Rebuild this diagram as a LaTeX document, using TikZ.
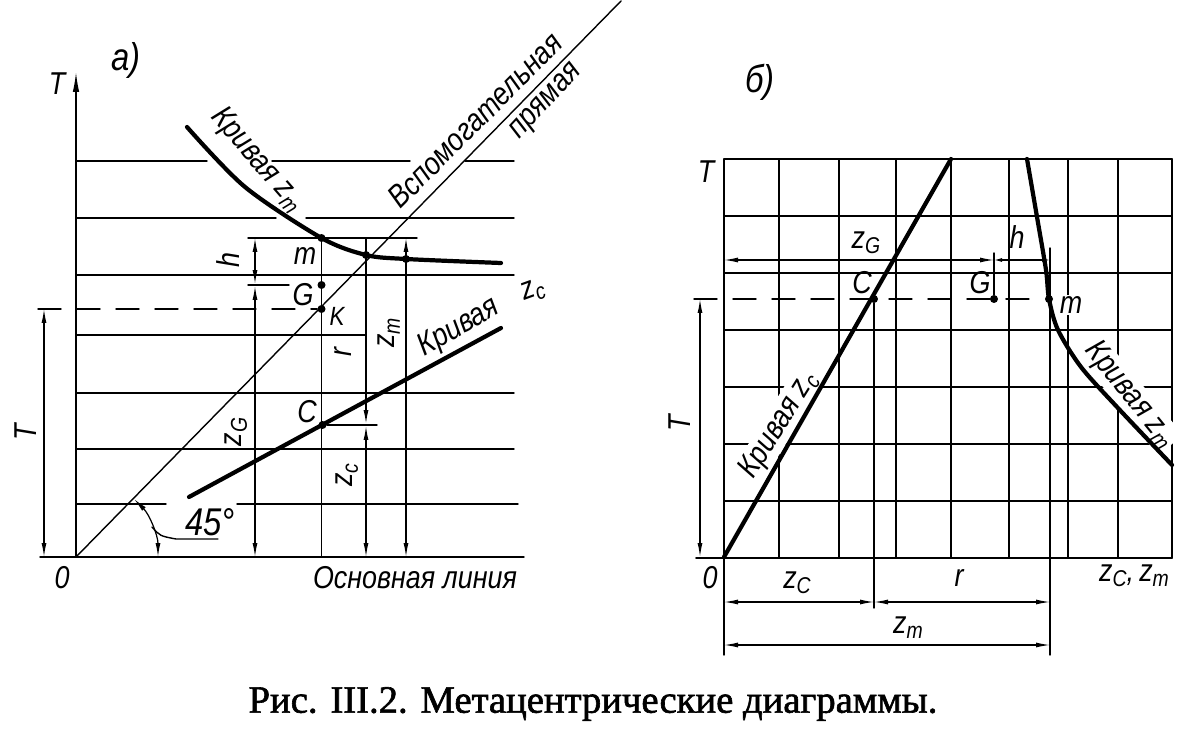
\documentclass[tikz,border=0pt]{standalone}
\usepackage{fontspec}
\setmainfont{Liberation Serif}
\newfontfamily\capfont[FakeBold=1.6]{Liberation Serif}
\newfontfamily\gostfont[FakeStretch=0.85]{Liberation Sans}
\usetikzlibrary{arrows.meta}
\newcommand{\idx}[1]{\raisebox{-0.3ex}{\fontsize{13}{15}\selectfont #1}}

\begin{document}
\begin{tikzpicture}[x=0.02cm, y=-0.02cm, line cap=round]

\tikzstyle{thinline} = [line width=0.8pt]
\tikzstyle{gridline} = [line width=1pt]
\tikzstyle{curve} = [line width=2.4pt]
\tikzstyle{dashline} = [line width=0.8pt, dash pattern=on 4.6mm off 3.2mm]
\tikzstyle{dimline} = [line width=0.7pt, {Latex[length=2.8mm,width=1mm]}-{Latex[length=2.8mm,width=1mm]}]
\tikzstyle{smalldim} = [line width=0.7pt, {Latex[length=1.6mm,width=0.8mm]}-{Latex[length=1.6mm,width=0.8mm]}]
\tikzstyle{dot} = [circle, fill=black, inner sep=0pt, minimum size=1.6mm]
\tikzstyle{lbl} = [font=\gostfont\itshape\fontsize{18}{20}\selectfont, inner sep=1pt]
\tikzstyle{bigl} = [font=\gostfont\itshape\fontsize{22}{24}\selectfont, inner sep=1pt]
\tikzstyle{gap} = [lbl, fill=white]

\fill[white] (0,0) rectangle (1200,733);
\useasboundingbox (0,0) rectangle (1200,733);

% a)
\coordinate (Oa) at (76,557);
\draw[thinline, -{Latex[length=4mm,width=1.3mm]}] (Oa) -- (76,72);
\draw[thinline] (40,557) -- (524,557);
\foreach \y in {275,393,449}
  \draw[thinline] (76,\y) -- (514,\y);
\draw[thinline] (76,161) -- (207,161) (272,161) -- (410,161) (465,161) -- (514,161);
\draw[thinline] (76,218) -- (276,218) (306,218) -- (514,218);
\draw[thinline] (76,335) -- (366,335);
\draw[thinline] (76,504) -- (166,504) (237,504) -- (518,504);

\node[dot] at (321.5,238) (ma) {};
\node[dot] at (321.5,285) (Ga) {};
\node[dot] at (321.5,309) (Ka) {};
\node[dot] at (322.5,425) (Ca) {};
\node[dot] at (366,255) (pa) {};
\node[dot] at (406,259) (qa) {};

\draw[thinline] (Oa) -- (621,1);
\draw[curve] plot[smooth] coordinates {(187,127) (245,187) (321.5,238) (366,255) (406,259) (501,263)};
\draw[curve] (189,497) -- (501,328);

\draw[thinline] (ma) -- (321.5,557);
\draw[thinline] (248,238) -- (417,238);
\draw[thinline] (248,285) -- (289,285);
\draw[dashline] (38,309) -- (Ka);
\draw[thinline] (Ca) -- (377,425);

\draw[dimline] (255,238) -- (255,284);
\draw[dimline] (255,286) -- (255,557);
\draw[thinline, -{Latex[length=2.8mm,width=1mm]}] (366,238) -- (366,424);
\draw[dimline] (366,426) -- (366,557);
\draw[dimline] (406,238) -- (406,557);
\draw[dimline] (44,309) -- (44,557);
\draw[dimline] (158,557) arc[start angle=0, end angle=-45, radius=82];
\draw[thinline] (152,527) .. controls (160,536) .. (176,539) -- (218,539);

\node[lbl] at (57,84) (Ta) {T};
\node[bigl] at (126,60) (tita) {а)};
\node[lbl] at (62,578) (nulla) {0};
\node[lbl] at (415,578) (base) {Основная линия};
\node[lbl, rotate=90] at (228,260) (ha) {h};
\node[lbl, rotate=90] at (236,432) (zGa) {z\idx{G}};
\node[lbl, rotate=90] at (343,352) (ra) {r};
\node[lbl, rotate=90] at (389,333) (zma) {z\idx{m}};
\node[lbl, rotate=90] at (347,475) (zca) {z\idx{c}};
\node[lbl, rotate=90] at (26,432) (Tdim) {T};
\node[lbl] at (305,256) (mlbl) {m};
\node[lbl] at (303,295) (Glbl) {G};
\node[lbl, font=\gostfont\itshape\fontsize{15}{17}\selectfont] at (337,316) (Klbl) {K};
\node[lbl] at (307,412) (Clbl) {C};
\node[bigl] at (210,522) (deg) {45°};
\node[lbl, rotate=-49] at (257,160) (zmcurve) {Кривая z\idx{m}};
\node[lbl, rotate=45] at (475,120) (aux1) {Вспомогательная};
\node[lbl, rotate=47] at (547,102) (aux2) {прямая};
\node[lbl, rotate=30] at (459,328) (zccurve) {Кривая};
\node[lbl, rotate=20] at (533,291) (zcname) {z\idx{c}};

% b)
\foreach \y in {159,216,273,330,387,444,501}
  \draw[gridline] (724,\y) -- (1172,\y);
\foreach \x in {724,779,839,896,951,1009,1068,1118,1172}
  \draw[gridline] (\x,159) -- (\x,558);
\draw[gridline] (696,558) -- (1172,558);

\node[gap, rotate=58] at (779,425) (zcb) {Кривая z\idx{c}};
\node[gap, rotate=-51] at (1130,395) (zmb) {Кривая z\idx{m}};
\node[gap] at (1071,305) (mlblb) {m};

\node[dot] at (874,299) (Cb) {};
\node[dot] at (994,299) (Gb) {};
\node[dot] at (1049,299) (mb) {};

\draw[curve] (724,557) -- (951,159);
\draw[curve] plot[smooth] coordinates {(1027,159) (1037,217) (1046,270) (1049,299) (1058,330) (1081,367) (1117,407) (1172,465)};

\draw[dashline] (694,299) -- (mb);
\draw[dimline] (700,299) -- (700,557);
\draw[thinline] (Cb) -- (874,608);
\draw[thinline] (1050,248) -- (1050,655);
\draw[thinline] (994,253) -- (Gb);
\draw[thinline] (724,558) -- (724,655);
\draw[dimline] (724,602) -- (874,602);
\draw[dimline] (874,602) -- (1050,602);
\draw[dimline] (724,645) -- (1050,645);
\draw[dimline] (724,260) -- (994,260);
\draw[smalldim] (994,260) -- (1050,260);

\node[lbl] at (706,172) (Tb) {T};
\node[bigl] at (760,82) (titb) {б)};
\node[lbl] at (710,578) (nullb) {0};
\node[lbl] at (862,283) (Clblb) {C};
\node[lbl] at (980,283) (Glblb) {G};
\node[lbl] at (1017,237) (hb) {h};
\node[lbl] at (866,243) (zGb) {z\idx{G}};
\node[lbl] at (797,583) (zcdim) {z\idx{C}};
\node[lbl] at (959,578) (rdim) {r};
\node[lbl] at (908,628) (zmdim) {z\idx{m}};
\node[lbl] at (1134,576) (axisb) {z\idx{C},\,z\idx{m}};
\node[lbl, rotate=90] at (680,423) (Tdimb) {T};

\node[font=\capfont\fontsize{22}{26}\selectfont] at (593,704) (caption) {Рис. III.2. Метацентрические диаграммы.};

\end{tikzpicture}
\end{document}
